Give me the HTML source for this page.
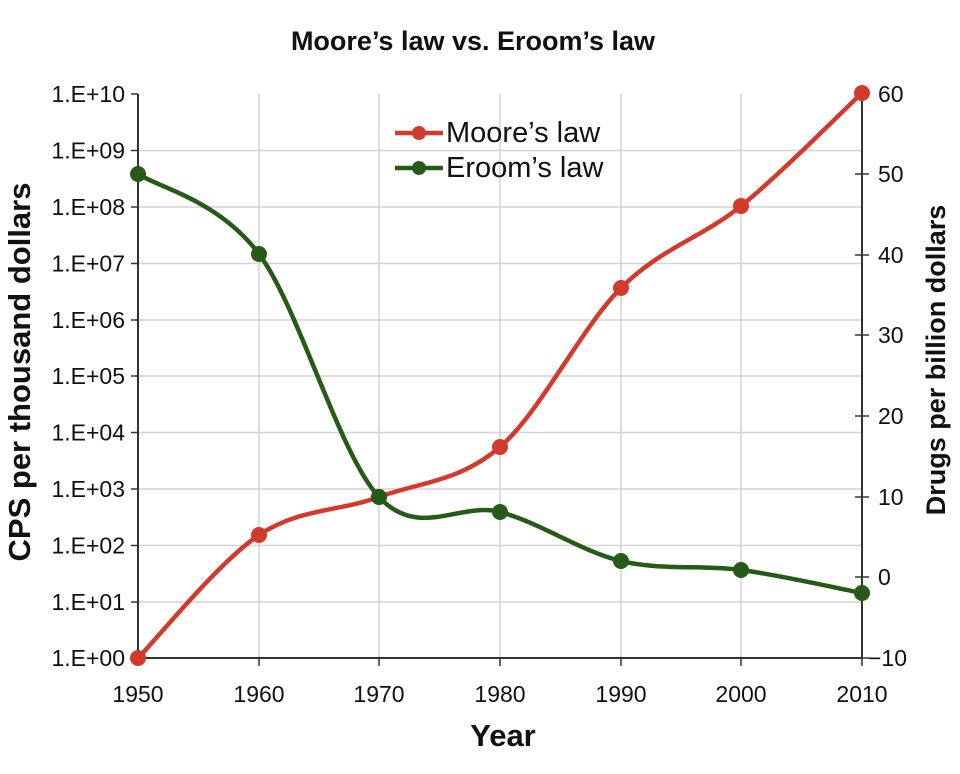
<!DOCTYPE html>
<html><head><meta charset="utf-8"><style>
html,body{margin:0;padding:0;background:#fff;}
svg{display:block;font-family:"Liberation Sans",Arial,sans-serif;}
</style></head><body>
<svg width="960" height="774" viewBox="0 0 960 774" xmlns="http://www.w3.org/2000/svg">
<rect width="960" height="774" fill="#fff"/>
<text x="473" y="50" font-size="27" font-weight="bold" text-anchor="middle" fill="#111">Moore’s law vs. Eroom’s law</text>
<g stroke="#d4d4d4" stroke-width="1.5">
<line x1="138" y1="150.5" x2="862" y2="150.5"/><line x1="138" y1="207" x2="862" y2="207"/>
<line x1="138" y1="263.5" x2="862" y2="263.5"/><line x1="138" y1="320" x2="862" y2="320"/>
<line x1="138" y1="376" x2="862" y2="376"/><line x1="138" y1="432.5" x2="862" y2="432.5"/>
<line x1="138" y1="489" x2="862" y2="489"/><line x1="138" y1="545.5" x2="862" y2="545.5"/>
<line x1="138" y1="602" x2="862" y2="602"/>
<line x1="259" y1="94" x2="259" y2="658"/><line x1="379" y1="94" x2="379" y2="658"/>
<line x1="500" y1="94" x2="500" y2="658"/><line x1="621" y1="94" x2="621" y2="658"/>
<line x1="741" y1="94" x2="741" y2="658"/>
</g>
<g stroke="#333" stroke-width="2">
<line x1="138" y1="94" x2="138" y2="658"/><line x1="862" y1="94" x2="862" y2="658"/>
<line x1="138" y1="658" x2="862" y2="658"/>
</g>
<g stroke="#333" stroke-width="1.5">
<line x1="131" y1="94" x2="138" y2="94"/><line x1="131" y1="150.5" x2="138" y2="150.5"/><line x1="131" y1="207" x2="138" y2="207"/><line x1="131" y1="263.5" x2="138" y2="263.5"/><line x1="131" y1="320" x2="138" y2="320"/><line x1="131" y1="376" x2="138" y2="376"/><line x1="131" y1="432.5" x2="138" y2="432.5"/><line x1="131" y1="489" x2="138" y2="489"/><line x1="131" y1="545.5" x2="138" y2="545.5"/><line x1="131" y1="602" x2="138" y2="602"/><line x1="131" y1="658" x2="138" y2="658"/>
<line x1="855" y1="94" x2="869" y2="94"/><line x1="855" y1="174" x2="869" y2="174"/><line x1="855" y1="255" x2="869" y2="255"/><line x1="855" y1="335" x2="869" y2="335"/><line x1="855" y1="416" x2="869" y2="416"/><line x1="855" y1="497" x2="869" y2="497"/><line x1="855" y1="577" x2="869" y2="577"/><line x1="855" y1="658" x2="869" y2="658"/>
<line x1="138" y1="658" x2="138" y2="666"/><line x1="259" y1="658" x2="259" y2="666"/><line x1="379" y1="658" x2="379" y2="666"/><line x1="500" y1="658" x2="500" y2="666"/><line x1="621" y1="658" x2="621" y2="666"/><line x1="741" y1="658" x2="741" y2="666"/><line x1="862" y1="658" x2="862" y2="666"/>
</g>
<g font-size="23" fill="#111" text-anchor="end">
<text x="125" y="102">1.E+10</text><text x="125" y="158.5">1.E+09</text><text x="125" y="215">1.E+08</text><text x="125" y="271.5">1.E+07</text><text x="125" y="328">1.E+06</text><text x="125" y="384">1.E+05</text><text x="125" y="440.5">1.E+04</text><text x="125" y="497">1.E+03</text><text x="125" y="553.5">1.E+02</text><text x="125" y="610">1.E+01</text><text x="125" y="666">1.E+00</text>
</g>
<g font-size="23" fill="#111">
<text x="878" y="102">60</text><text x="878" y="182">50</text><text x="878" y="263">40</text><text x="878" y="343">30</text><text x="878" y="424">20</text><text x="878" y="505">10</text><text x="878" y="585">0</text><text x="868" y="666">−10</text>
</g>
<g font-size="23" fill="#111" text-anchor="middle">
<text x="138" y="702">1950</text><text x="259" y="702">1960</text><text x="379" y="702">1970</text><text x="500" y="702">1980</text><text x="621" y="702">1990</text><text x="741" y="702">2000</text><text x="862" y="702">2010</text>
</g>
<text x="503" y="746" font-size="31" font-weight="bold" text-anchor="middle" fill="#111">Year</text>
<text transform="translate(30,372) rotate(-90)" font-size="31" font-weight="bold" text-anchor="middle" fill="#111">CPS per thousand dollars</text>
<text transform="translate(945,360) rotate(-90)" font-size="27" font-weight="bold" text-anchor="middle" fill="#111">Drugs per billion dollars</text>
<path d="M138,658 C158.2,637.5 218.8,561.8 259,535 C299.2,508.2 338.8,511.7 379,497 C419.2,482.3 459.7,481.8 500,447 C540.3,412.2 580.8,328.2 621,288 C661.2,247.8 700.8,238.5 741,206 C781.2,173.5 841.8,111.8 862,93" fill="none" stroke="#d23a2c" stroke-width="4.5"/>
<path d="M138,174 C158.2,187.3 218.8,200.2 259,254 C299.2,307.8 338.8,454 379,497 C419.2,540 459.7,501.3 500,512 C540.3,522.7 580.8,551.3 621,561 C661.2,570.7 700.8,564.7 741,570 C781.2,575.3 841.8,589.2 862,593" fill="none" stroke="#255a17" stroke-width="4.5"/>
<g fill="#d23a2c">
<circle cx="138" cy="658" r="8"/><circle cx="259" cy="535" r="8"/><circle cx="379" cy="497" r="8"/><circle cx="500" cy="447" r="8"/><circle cx="621" cy="288" r="8"/><circle cx="741" cy="206" r="8"/><circle cx="862" cy="93" r="8"/>
</g>
<g fill="#255a17">
<circle cx="138" cy="174" r="8"/><circle cx="259" cy="254" r="8"/><circle cx="379" cy="497" r="8"/><circle cx="500" cy="512" r="8"/><circle cx="621" cy="561" r="8"/><circle cx="741" cy="570" r="8"/><circle cx="862" cy="593" r="8"/>
</g>
<line x1="395" y1="133" x2="443" y2="133" stroke="#d23a2c" stroke-width="4.5"/><circle cx="419" cy="133" r="7" fill="#d23a2c"/>
<line x1="395" y1="168" x2="443" y2="168" stroke="#255a17" stroke-width="4.5"/><circle cx="419" cy="168" r="7" fill="#255a17"/>
<text x="446" y="142" font-size="29" fill="#111">Moore’s law</text>
<text x="446" y="177" font-size="29" fill="#111">Eroom’s law</text>
</svg>
</body></html>
